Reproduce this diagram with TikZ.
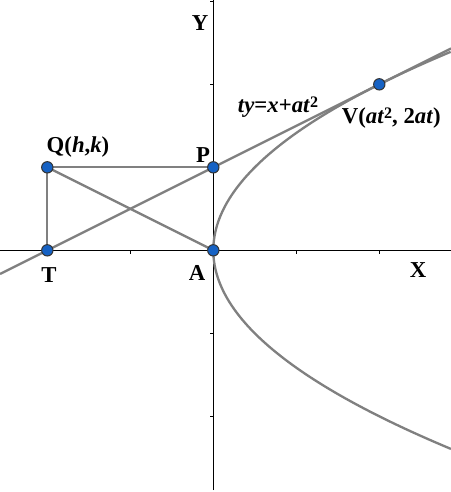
\documentclass[tikz,border=0pt]{standalone}
\usepackage{fontspec}
\setmainfont{Liberation Serif}
\usepackage{xcolor}
\usepackage{tikz}
\usetikzlibrary{arrows}

\definecolor{ptblue}{RGB}{22,98,196}
\definecolor{curvegray}{RGB}{128,128,128}

\begin{document}
\begin{tikzpicture}[dot/.style={circle, fill=ptblue, draw=black!80, line width=0.35pt, inner sep=0pt, minimum size=0.137cm},
	lbl/.style={font=\bfseries\fontsize{7.8}{9}\selectfont, inner sep=0pt},
	curve/.style={draw=curvegray, line width=0.8pt}]
\useasboundingbox (-2.570,-2.912) rectangle (2.864,3.016);

\draw[line width=0.35pt] (-2.570,0) -- (2.864,0);

\draw[line width=0.35pt] (0,-2.89) -- (0,3.016);

\foreach \x in {-1,1,2} \draw[line width=0.35pt] (\x,0) -- (\x,-0.04);

\foreach \y in {-2,-1,2,3} \draw[line width=0.35pt] (0,\y) -- (-0.04,\y);

\coordinate (A) at (0,0);
\coordinate (P) at (0,1);
\coordinate (T) at (-2,0);
\coordinate (Q) at (-2,1);
\coordinate (V) at (2,2);
\coordinate (tl) at (-2.570,-0.285);
\coordinate (tr) at (2.864,2.432);

\draw[curve] plot[domain=-2.393:2.393, samples=120] ({\x*\x/2},\x);

\draw[curve] (tl) -- (tr);

\draw[curve] (Q) -- (P);

\draw[curve] (Q) -- (T);

\draw[curve] (Q) -- (A);

\node[dot] (ptA) at (A) {};
\node[dot] (ptP) at (P) {};
\node[dot] (ptT) at (T) {};
\node[dot] (ptQ) at (Q) {};
\node[dot] (ptV) at (V) {};

\node[lbl] (labY) at (-0.160,2.739) {Y};
\node[lbl] (labX) at (2.466,-0.237) {X};
\node[lbl] (labA) at (-0.196,-0.273) {A};
\node[lbl] (labT) at (-1.980,-0.298) {T};
\node[lbl] (labQ) at (-1.630,1.245) {Q(\textit{h},\textit{k})};
\node[lbl] (labP) at (-0.124,1.148) {P};
\node[lbl] (labtan) at (0.780,1.727) {\textit{ty}=\textit{x}+\textit{at}\raisebox{0.5ex}{\fontsize{5.5}{6}\selectfont 2}};
\node[lbl] (labV) at (2.145,1.594) {V(\textit{at}\raisebox{0.5ex}{\fontsize{5.5}{6}\selectfont 2}, 2\textit{at})};

\end{tikzpicture}
\end{document}
